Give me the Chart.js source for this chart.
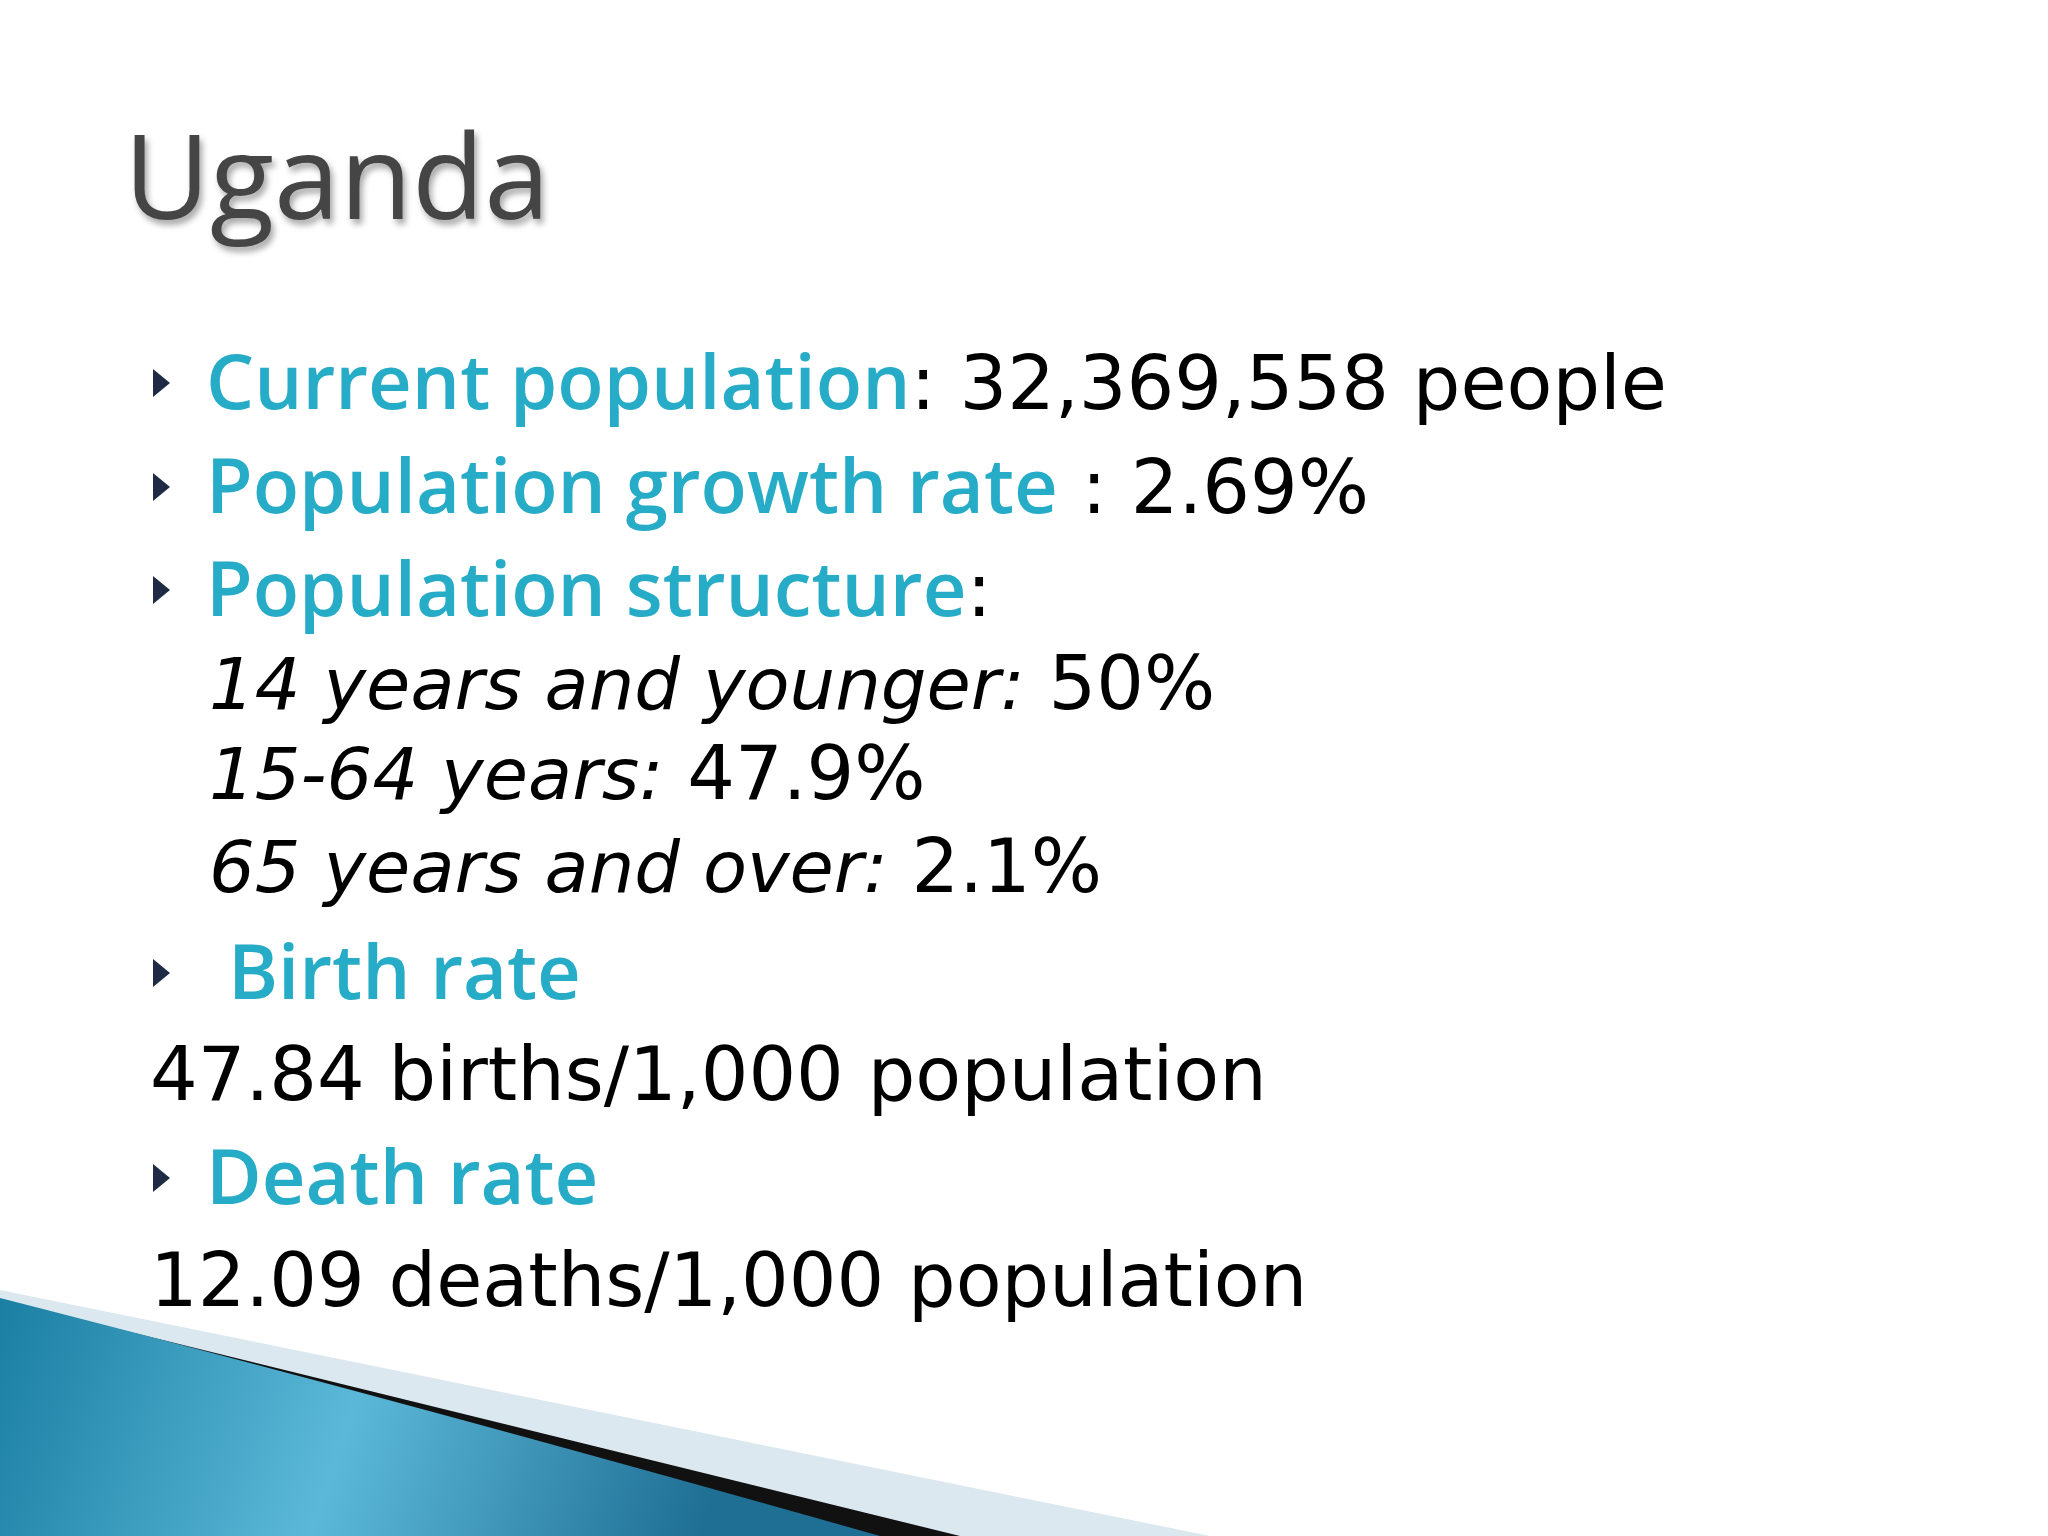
<!DOCTYPE html>
<html><head><meta charset="utf-8">
<script src="https://cdn.jsdelivr.net/npm/chart.js@4/dist/chart.umd.min.js"></script>
<style>html,body{margin:0;padding:0;background:#fff}#c{display:block}</style>
</head><body>
<div style="width:2048px;height:1536px"><canvas id="c"></canvas></div>
<script>
const title = "Uganda";
const population = "32,369,558";
const growthRate = "2.69%";
const ageGroups = ["14 years and younger:", "15-64 years:", "65 years and over:"];
const ageShares = [50, 47.9, 2.1];
const birthRate = "47.84";
const deathRate = "12.09";

const slidePlugin = {
  id: 'slide',
  beforeDraw(chart) {
    const ctx = chart.ctx;
    ctx.save();
    ctx.fillStyle = '#fff';
    ctx.fillRect(0, 0, 2048, 1536);
    ctx.fillStyle = '#dbe8f0';
    ctx.beginPath(); ctx.moveTo(0,1290); ctx.lineTo(1210,1536); ctx.lineTo(0,1536); ctx.fill();
    ctx.fillStyle = '#111';
    ctx.beginPath(); ctx.moveTo(0,1300); ctx.lineTo(960,1536); ctx.lineTo(0,1536); ctx.fill();
    const g = ctx.createLinearGradient(0,1300,700,1536);
    g.addColorStop(0,'#1a7fa3'); g.addColorStop(0.5,'#5bb8d8'); g.addColorStop(1,'#1f6f95');
    ctx.fillStyle = g;
    ctx.beginPath(); ctx.moveTo(0,1298); ctx.quadraticCurveTo(400,1400,880,1536); ctx.lineTo(0,1536); ctx.fill();
    ctx.restore();
  },
  afterDraw(chart) {
    const ctx = chart.ctx;
    ctx.save();
    ctx.textBaseline = 'alphabetic';
    ctx.font = '118px "Open Sans"';
    ctx.shadowColor = 'rgba(0,0,0,0.35)'; ctx.shadowOffsetX = 3; ctx.shadowOffsetY = 5; ctx.shadowBlur = 6;
    ctx.fillStyle = '#454545';
    ctx.fillText(title, 124, 219);
    ctx.shadowColor = 'transparent';
    const blue = '#27acc8', black = '#000';
    const bold = '600 76px "Open Sans"', reg = '75px "DejaVu Sans"', ital = 'italic 72px "DejaVu Sans"';
    function bullet(y) {
      ctx.fillStyle = '#1f2a44';
      ctx.beginPath(); ctx.moveTo(153, y-40); ctx.lineTo(170, y-26); ctx.lineTo(153, y-12); ctx.fill();
    }
    function runs(x, y, parts) {
      for (const [t, f, c] of parts) { ctx.font = f; ctx.fillStyle = c; ctx.fillText(t, x, y); x += ctx.measureText(t).width; }
    }
    bullet(409); runs(206, 409, [["Current population", bold, blue], [": " + population + " people", reg, black]]);
    bullet(513); runs(206, 513, [["Population growth rate", bold, blue], [" : " + growthRate, reg, black]]);
    bullet(616); runs(206, 616, [["Population structure", bold, blue], [":", reg, black]]);
    const ys = [709, 799, 892];
    ageGroups.forEach((a, i) => runs(209, ys[i], [[a, ital, black], [" " + ageShares[i] + "%", reg, black]]));
    bullet(999); runs(228, 999, [["Birth rate", bold, blue]]);
    runs(150, 1100, [[birthRate + " births/1,000 population", reg, black]]);
    bullet(1204); runs(206, 1204, [["Death rate", bold, blue]]);
    runs(150, 1306, [[deathRate + " deaths/1,000 population", reg, black]]);
    ctx.restore();
  }
};

new Chart(document.getElementById('c'), {
  type: 'bar',
  data: { labels: ageGroups, datasets: [{ data: ageShares, backgroundColor: 'rgba(0,0,0,0)' }] },
  options: {
    responsive: true, maintainAspectRatio: false, animation: false,
    plugins: { legend: { display: false }, tooltip: { enabled: false } },
    scales: { x: { display: false }, y: { display: false } }
  },
  plugins: [slidePlugin]
});
</script>
</body></html>
